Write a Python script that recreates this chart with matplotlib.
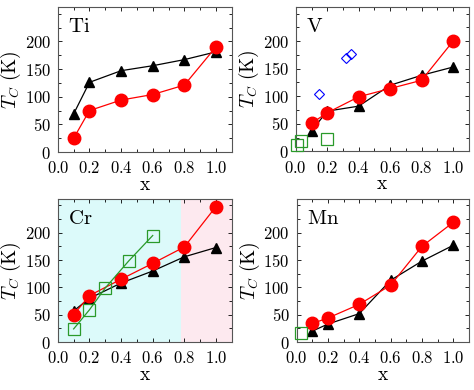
import numpy as np
import matplotlib
matplotlib.use('Agg')
import matplotlib.pyplot as plt
from matplotlib.ticker import FuncFormatter, MultipleLocator

plt.rcParams['mathtext.fontset'] = 'cm'
plt.rcParams['font.family'] = 'serif'

x = [0.1, 0.2, 0.4, 0.6, 0.8, 1.0]

# Ti
ti_tri = [69, 126, 147, 156, 167, 181]
ti_circ = [25, 75, 94, 104, 121, 190]
# V
v_tri = [37, 73, 82, 120, 138, 153]
v_circ = [51, 70, 99, 114, 129, 200]
v_dia_x = [0.15, 0.32, 0.35]
v_dia_y = [104, 170, 177]
v_sq_x = [0.006, 0.034, 0.2]
v_sq_y = [12, 18, 23]
# Cr
cr_tri = [57, 80, 108, 130, 156, 173]
cr_circ = [50, 85, 115, 144, 174, 248]
cr_sq_x = [0.1, 0.2, 0.3, 0.45, 0.6]
cr_sq_y = [24, 59, 99, 149, 195]
# Mn
mn_tri = [20, 33, 52, 113, 148, 177]
mn_circ = [34, 44, 69, 104, 175, 219]
mn_sq_x = [0.028]
mn_sq_y = [17]

green = '#2a9a2a'

fig = plt.figure(figsize=(4.74, 3.90), dpi=100)
pos = {'Ti': [0.122, 0.610, 0.367, 0.372],
       'V': [0.624, 0.612, 0.365, 0.370],
       'Cr': [0.122, 0.123, 0.367, 0.367],
       'Mn': [0.626, 0.123, 0.363, 0.367]}

fmt_x = FuncFormatter(lambda v, p: r'$%.1f$' % v)
fmt_y = FuncFormatter(lambda v, p: r'$%d$' % v)

def setup(ax, name):
	ax.set_xlim(0, 1.1)
	ax.set_ylim(0, 262)
	ax.xaxis.set_major_locator(MultipleLocator(0.2))
	ax.xaxis.set_minor_locator(MultipleLocator(0.1))
	ax.yaxis.set_minor_locator(MultipleLocator(25))
	ax.set_yticks([0, 50, 100, 150, 200])
	ax.xaxis.set_major_formatter(fmt_x)
	ax.yaxis.set_major_formatter(fmt_y)
	ax.tick_params(which='both', direction='in', top=True, right=True, labelsize=12)
	ax.tick_params(axis='x', pad=6)
	ax.tick_params(axis='y', pad=5)
	ax.tick_params(which='major', length=3, width=0.6)
	ax.tick_params(which='minor', length=2, width=0.6)
	for s in ax.spines.values():
		s.set_color('#555555')
		s.set_linewidth(0.8)
	ax.set_xlabel(r'$\mathrm{x}$', fontsize=14, labelpad=-1)
	ax.set_ylabel(r'$T_C\ (\mathrm{K})$', fontsize=14, labelpad=1)
	ax.text(0.06, 0.93, r'$\mathrm{%s}$' % name, transform=ax.transAxes,
		fontsize=15, va='top', ha='left')

def main_series(ax, tri, circ):
	ax.plot(x, tri, '-', color='black', lw=0.9, marker='^', ms=7.5, zorder=3)
	ax.plot(x, circ, '-', color='red', lw=0.9, marker='o', ms=9, zorder=4)

ax = fig.add_axes(pos['Ti'])
setup(ax, 'Ti')
main_series(ax, ti_tri, ti_circ)

ax = fig.add_axes(pos['V'])
setup(ax, 'V')
main_series(ax, v_tri, v_circ)
ax.plot(v_dia_x, v_dia_y, linestyle='none', marker='D', ms=5.5, mfc='none', mec='blue', mew=0.8, zorder=5)
ax.plot(v_sq_x, v_sq_y, linestyle='none', marker='s', ms=8, mfc='none', mec=green, mew=0.9, zorder=5, clip_on=False)

ax = fig.add_axes(pos['Cr'])
setup(ax, 'Cr')
ax.axvspan(0, 0.78, color='#dcfafa', zorder=0, lw=0)
ax.axvspan(0.78, 1.1, color='#fde9ef', zorder=0, lw=0)
main_series(ax, cr_tri, cr_circ)
ax.plot(cr_sq_x, cr_sq_y, '-', color=green, lw=0.9, marker='s', ms=8,
	mfc='none', mec=green, mew=0.9, zorder=5)

ax = fig.add_axes(pos['Mn'])
setup(ax, 'Mn')
main_series(ax, mn_tri, mn_circ)
ax.plot(mn_sq_x, mn_sq_y, linestyle='none', marker='s', ms=8, mfc='none', mec=green, mew=0.9, zorder=5, clip_on=False)

fig.savefig('out.png', dpi=100)
